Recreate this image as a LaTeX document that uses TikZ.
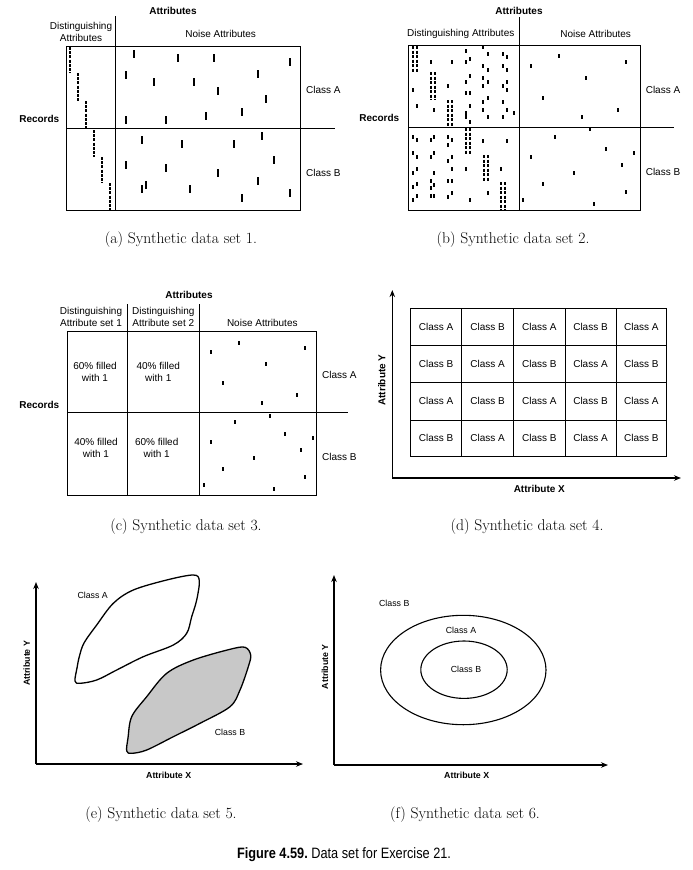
\documentclass[tikz,border=0pt]{standalone}
\usepackage{fontspec}
\setsansfont{Liberation Sans}
\newfontfamily\capfont[FakeStretch=0.85]{Liberation Sans}
\usetikzlibrary{arrows.meta}
\tikzset{
  lbl/.style={font=\sffamily\fontsize{10}{11.5}\selectfont, inner sep=0pt, align=center},
  blbl/.style={font=\sffamily\bfseries\fontsize{10}{11.5}\selectfont, inner sep=0pt},
  slbl/.style={font=\sffamily\fontsize{8.8}{10}\selectfont, inner sep=0pt},
  sblbl/.style={font=\sffamily\bfseries\fontsize{8.8}{10}\selectfont, inner sep=0pt},
  captxt/.style={font=\rmfamily\fontsize{15.6}{18}\selectfont, inner sep=0pt},
  frame/.style={line width=0.9pt},
  axis/.style={line width=1.4pt, -{Stealth[length=7pt,width=5.5pt]}},
  dstair/.style={line width=2pt, dash pattern=on 3pt off 1.2pt},
  bstair/.style={line width=1.7pt, dash pattern=on 3pt off 1.5pt},
}
\begin{document}
\begin{tikzpicture}[x=1pt,y=-1pt]
\useasboundingbox[fill=white] (0,0) rectangle (693,870);

% ---------------- (a) ----------------
\draw[frame] (66.7,46.7) rectangle (300,210);
\draw[frame] (115.3,16) -- (115.3,210);
\draw[frame] (66.7,128) -- (335,128);
\node[blbl] (aAttr) at (173,11) {Attributes};
\node[lbl] (aDist) at (81,32) {Distinguishing\\Attributes};
\node[lbl] (aNoise) at (220.7,34) {Noise Attributes};
\node[blbl] (aRec) at (39.3,119.3) {Records};
\node[lbl] (aCA) at (323.3,90) {Class A};
\node[lbl] (aCB) at (323.3,173.3) {Class B};
\foreach \x/\ya/\yb in {70/47/73, 78.3/73/101, 86.3/101/130, 94.3/130/157, 102.3/157/183, 110.3/183/210}
  \draw[dstair] (\x,\ya) -- (\x,\yb);
\foreach \x/\y in {134/54.3, 178.3/58.3, 214/58.3, 290/62.3, 126/75, 258.3/74, 154/82.3, 194/82.3, 218/91, 266/99, 242/111.7, 206/116, 126/120, 166/120,
  262/136, 142/140, 182/144, 234/144, 274/160, 126/165, 166/168.3, 218/173.3, 258/181, 146/185, 142/189.3, 190/189.3, 290/193.3, 242/198}
  \fill (\x-1,\y-4) rectangle ++(2,8);
\node[captxt] (capa) at (181,239.5) {(a) Synthetic data set 1.};

% ---------------- (b) ----------------
\draw[frame] (408.3,45) rectangle (640,210);
\draw[frame] (519.3,17) -- (519.3,210);
\draw[frame] (408.3,127.3) -- (674,127.3);
\node[blbl] (bAttr) at (519,10.7) {Attributes};
\node[lbl] (bDist) at (460.7,34.3) {Distinguishing Attributes};
\node[lbl] (bNoise) at (595.7,34.3) {Noise Attributes};
\node[blbl] (bRec) at (379.3,118.3) {Records};
\node[lbl] (bCA) at (663,90) {Class A};
\node[lbl] (bCB) at (663,172.3) {Class B};
\foreach \x/\ya/\yb in {414.7/46/72, 432.7/72/100, 450/100/127, 467.7/128/155, 485.7/155/182, 503/182/210}{
  \draw[bstair] (\x-2,\ya) -- (\x-2,\yb);
  \draw[bstair] (\x+2,\ya) -- (\x+2,\yb);
}
\foreach \x/\y in {431/62.3, 451.7/62.3, 465.7/50.7, 465.7/62.3, 470/59.3, 483.3/46.7, 488.3/54, 502.7/54, 506.7/57.3,
  483.3/65.7, 488.3/70, 502.7/65.7, 506.7/70, 470/76, 465.7/81.7, 483.3/78.3, 488.3/81.7, 506.7/81.7,
  412.7/90, 448.3/85.7, 465.7/93.3, 470/93.3, 483.3/85.7, 502.7/85.7, 506.7/90, 488.3/98.3, 483.3/101.7,
  417.3/106, 434.3/110, 470/106, 465.7/113.3, 483.3/110, 502.7/101.7, 506.7/110, 514/113.3, 465.7/117.3,
  488.3/117.3, 502.7/117.3, 470/121.7,
  412.7/136.7, 417.3/140, 431/140, 434.3/136.7, 447.7/136.7, 451.7/140, 447.7/145, 483.3/141, 506.7/141,
  412.7/153.3, 417.3/157.3, 431/157.3, 434.3/153.3, 447.7/161, 451.7/157.3,
  412.7/173.3, 417.3/169, 434.3/173.3, 451.7/169, 465.7/169, 500.7/169,
  412.7/186.7, 417.3/184.3, 431/181, 431/188.3, 434.3/185, 447.7/181, 451.7/181,
  412.7/200, 417.3/195.7, 431/195.7, 434.3/195.7, 447.7/196.7, 451.7/193.3, 470/200, 488.3/193.3,
  559/56, 626/62.3, 531/66, 586/78.3, 543/98.3, 618/110, 582/117.3, 590/129.3,
  555/137.3, 606/149.3, 634/153.3, 531/156.7, 622/165, 574/173.3, 543/184.3, 626/192.3, 523/200, 594/204}
  \fill (\x-0.9,\y-2) rectangle ++(1.8,4);
\node[captxt] (capb) at (513,239.5) {(b) Synthetic data set 2.};

% ---------------- (c) ----------------
\draw[frame] (67.7,331) rectangle (316.7,495);
\draw[frame] (127.7,304) -- (127.7,495);
\draw[frame] (199,304) -- (199,495);
\draw[frame] (67.7,412.7) -- (348.3,412.7);
\node[blbl] (cAttr) at (189,295) {Attributes};
\node[lbl] (cD1) at (91,317) {Distinguishing\\Attribute set 1};
\node[lbl] (cD2) at (163.3,317) {Distinguishing\\Attribute set 2};
\node[lbl] (cNoise) at (262.3,322.7) {Noise Attributes};
\node[blbl] (cRec) at (39.3,405.3) {Records};
\node[lbl] (cA1) at (95,372) {60\% filled\\with 1};
\node[lbl] (cA2) at (158.3,372) {40\% filled\\with 1};
\node[lbl] (cB1) at (96,448) {40\% filled\\with 1};
\node[lbl] (cB2) at (156.7,448) {60\% filled\\with 1};
\node[lbl] (cCA) at (339.3,375) {Class A};
\node[lbl] (cCB) at (339.3,456.7) {Class B};
\foreach \x/\y in {239/342.7, 211/351.7, 305/348.3, 266/364.3, 223.3/383.3, 296.7/395, 262/403.3, 270/415.7, 235.3/422.3,
  285.3/434, 312.7/437.7, 211/442.3, 301.3/450, 254/457.7, 223.3/469, 305.3/477.3, 204/485, 274/489.3}
  \fill (\x-0.9,\y-2) rectangle ++(1.8,4);
\node[captxt] (capc) at (186,527) {(c) Synthetic data set 3.};

% ---------------- (d) ----------------
\coordinate (dO) at (392.3,478);
\coordinate (dY) at (392.3,290);
\coordinate (dX) at (681,478);
\draw[axis] (dO) -- (dY);
\draw[axis] (dO) -- (dX);
\draw[frame] (410.7,308.3) rectangle (666.7,456.7);
\foreach \x in {461.7,513.7,565,616} \draw[frame] (\x,308.3) -- (\x,456.7);
\foreach \y in {345.3,382.7,420} \draw[frame] (410.7,\y) -- (666.7,\y);
\foreach \r/\yy in {0/326.8,1/364,2/401.3,3/438.3}{
  \foreach \c/\xx in {0/436.2,1/487.7,2/539.3,3/590.5,4/641.3}{
    \pgfmathtruncatemacro{\cellpar}{mod(\r+\c,2)}
    \ifnum\cellpar=0 \node[lbl] (d\r\c) at (\xx,\yy) {Class A};
    \else \node[lbl] (d\r\c) at (\xx,\yy) {Class B}; \fi
  }
}
\node[blbl] (dXl) at (539.3,489.3) {Attribute X};
\node[blbl, rotate=90] (dYl) at (381.7,380) {Attribute Y};
\node[captxt] (capd) at (527,527) {(d) Synthetic data set 4.};

% ---------------- (e) ----------------
\coordinate (eO) at (36,764);
\coordinate (eY) at (36,582);
\coordinate (eX) at (303,764);
\draw[axis] (eO) -- (eY);
\draw[axis] (eO) -- (eX);
\draw[line width=1.3pt] plot[smooth cycle, tension=0.55] coordinates {
  (75,681) (77,668) (79.3,656.7) (84,643) (96.7,625) (113.3,603.3) (133.3,590) (166.7,580) (193.3,575)
  (199.3,580.7) (196.7,600) (191.7,616.7) (186.7,633.3) (173.3,645) (143.3,656.7) (116.7,670) (96.7,680) (80,683.3)};
\draw[line width=1.3pt, fill={rgb,255:red,200;green,200;blue,200}] plot[smooth cycle, tension=0.55] coordinates {
  (126.7,751) (128,738) (131.7,716.7) (146.7,696.7) (166.7,673.3) (193.3,660) (230,649.3) (245,647.3)
  (250.7,655) (248.3,666.7) (240,690) (230,706.7) (200,723.3) (173.3,736.7) (146.7,750) (131.7,753.3)};
\node[slbl] (eCA) at (92.7,595.3) {Class A};
\node[slbl] (eCB) at (230,732.3) {Class B};
\node[sblbl] (eXl) at (168.7,775) {Attribute X};
\node[sblbl, rotate=90] (eYl) at (26.7,663.3) {Attribute Y};
\node[captxt] (cape) at (161,815) {(e) Synthetic data set 5.};

% ---------------- (f) ----------------
\coordinate (fO) at (334,765);
\coordinate (fY) at (334,575);
\coordinate (fX) at (608,765);
\draw[axis] (fO) -- (fY);
\draw[axis] (fO) -- (fX);
\draw[line width=1.1pt] (463.3,670) ellipse [x radius=82.7, y radius=54.7];
\draw[line width=1.1pt] (464,669.7) ellipse [x radius=43.2, y radius=28.7];
\node[slbl] (fCB1) at (394.3,603.3) {Class B};
\node[slbl] (fCA) at (461,630.7) {Class A};
\node[slbl] (fCB2) at (466,669.3) {Class B};
\node[sblbl] (fXl) at (466.7,775) {Attribute X};
\node[sblbl, rotate=90] (fYl) at (325,666.7) {Attribute Y};
\node[captxt] (capf) at (465,815) {(f) Synthetic data set 6.};

% ---------------- figure caption ----------------
\node[inner sep=0pt, font=\capfont\fontsize{15}{17}\selectfont] (figcap) at (344,855) {\textbf{Figure 4.59.}\ Data set for Exercise 21.};
\end{tikzpicture}
\end{document}
